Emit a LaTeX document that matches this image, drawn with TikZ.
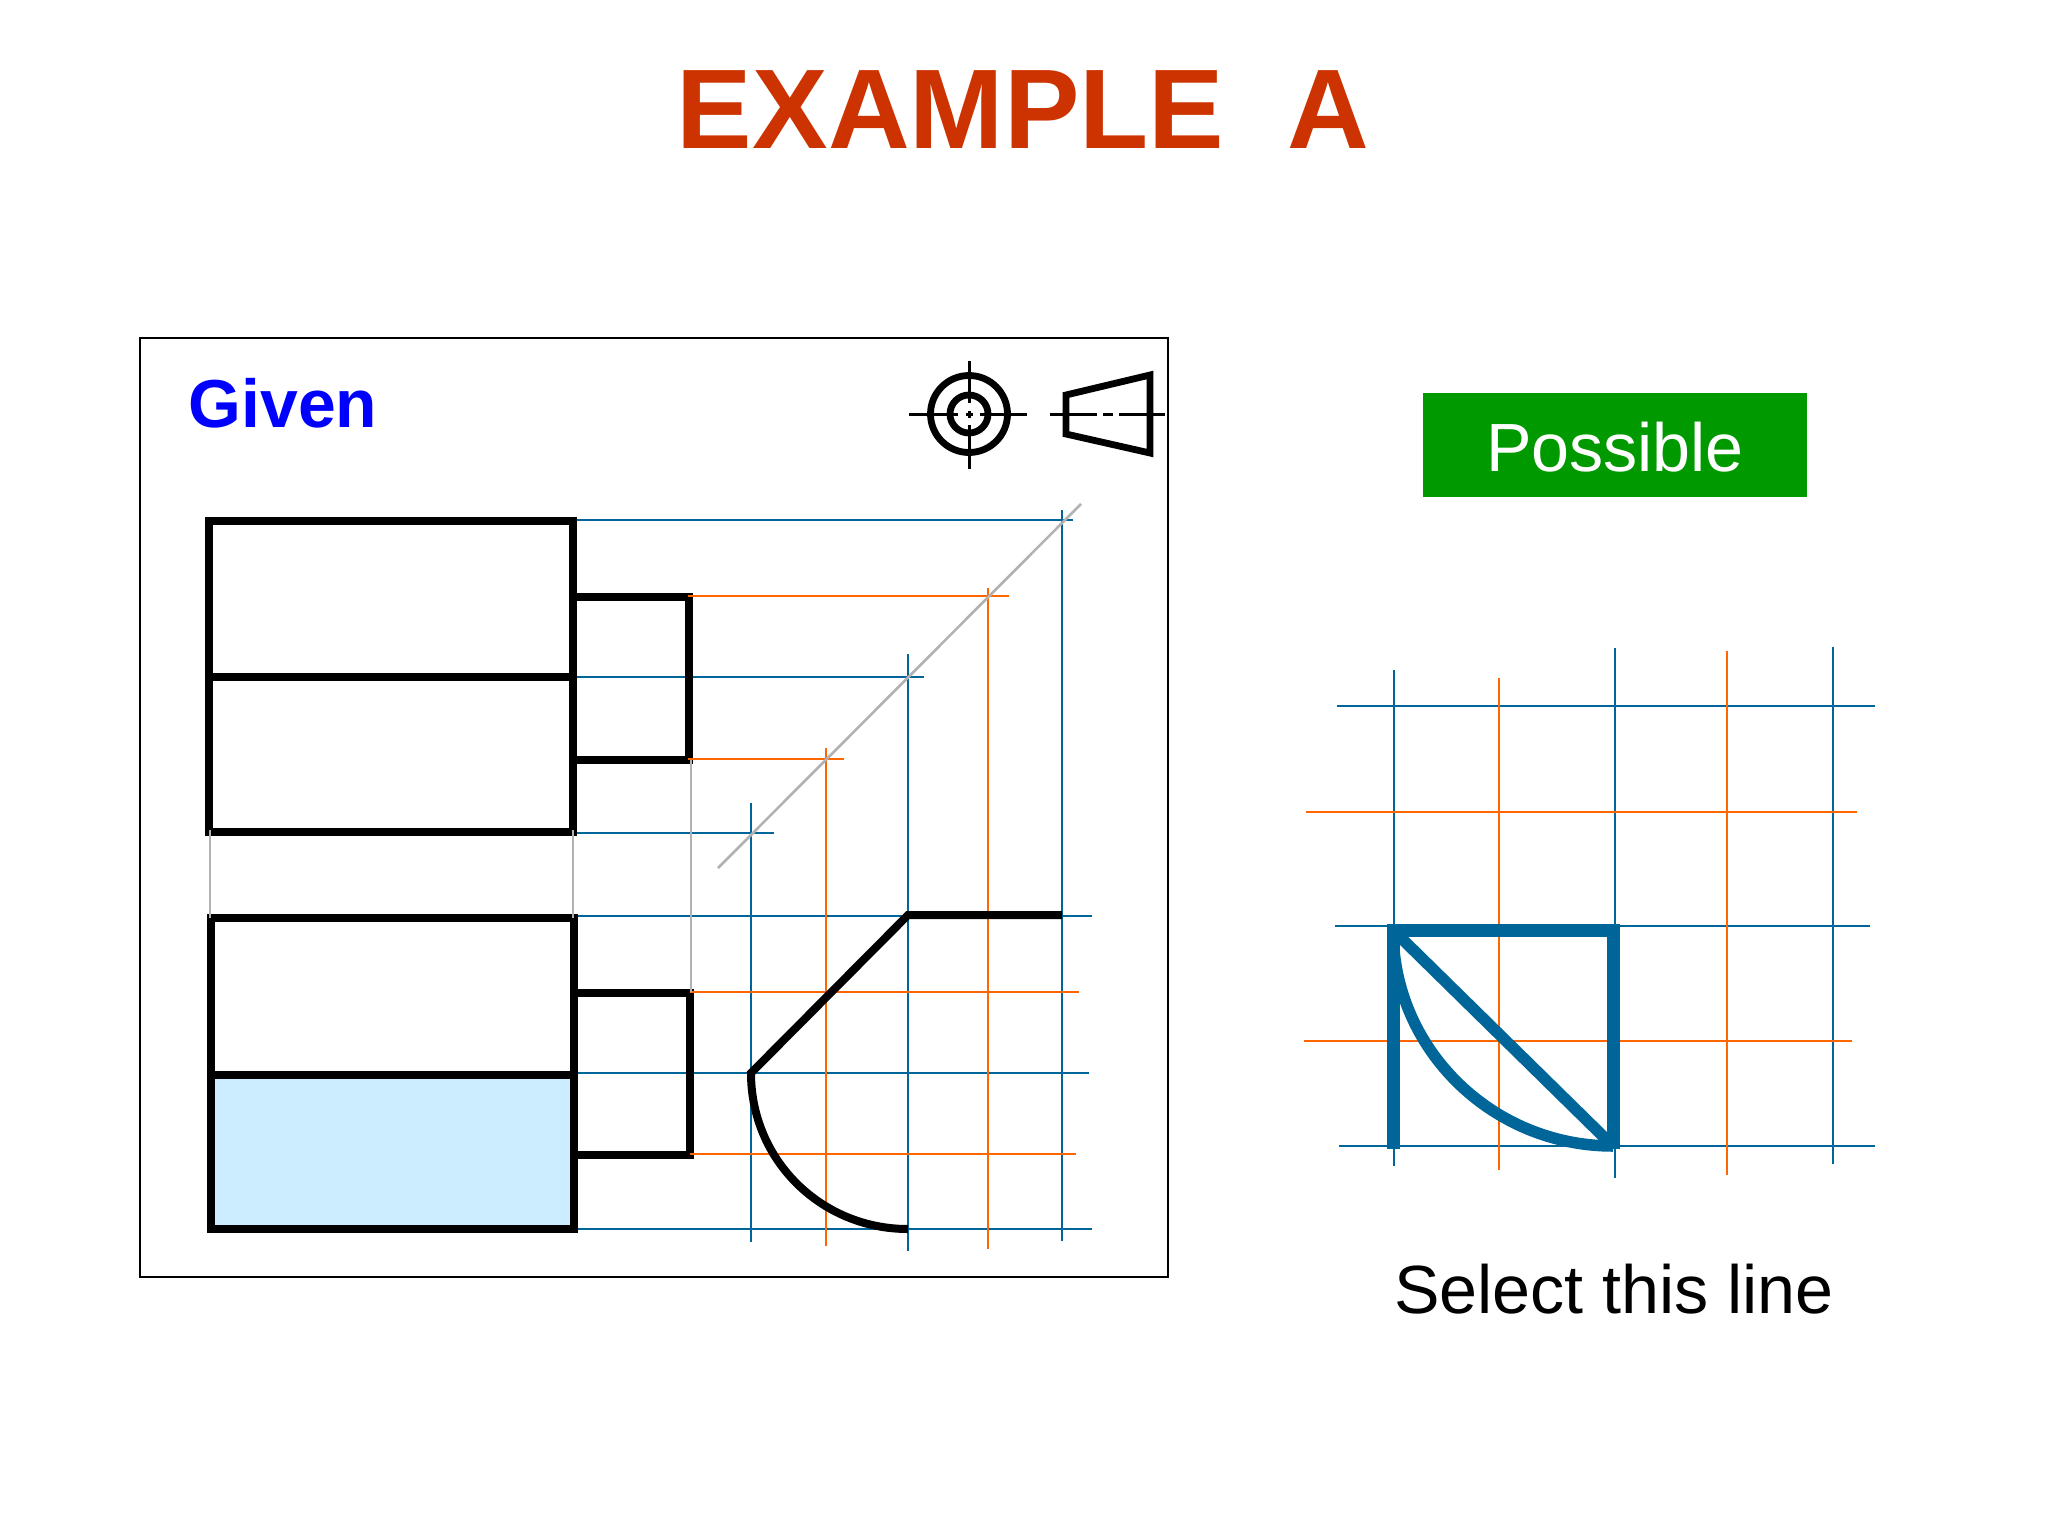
\documentclass[tikz,border=0pt]{standalone}
\usepackage{fontspec}
\setmainfont{Liberation Sans}
\definecolor{viewblue}{HTML}{006699}
\definecolor{vieworange}{HTML}{FF6600}
\definecolor{viewgrey}{HTML}{B2B2B2}
\definecolor{titlered}{HTML}{CC3300}
\definecolor{faceblue}{HTML}{CCECFF}
\definecolor{boxgreen}{HTML}{009900}
\tikzstyle{blue line}=[draw=viewblue,line width=0.026cm]
\tikzstyle{orange line}=[draw=vieworange,line width=0.026cm]
\tikzstyle{grey line}=[draw=viewgrey,line width=0.026cm]
\tikzstyle{outline}=[draw=black,line width=0.08cm,line join=miter]
\tikzstyle{symbol}=[draw=black,line width=0.068cm]
\tikzstyle{axis}=[draw=black,line width=0.03cm]
\tikzstyle{selected line}=[draw=viewblue,line width=0.13cm,line join=miter]
\tikzstyle{label}=[inner sep=0pt,anchor=center]

\begin{document}
\begin{tikzpicture}[x=0.01cm,y=-0.01cm]
    \useasboundingbox (0,0) rectangle (2048,1536);

    % Titles and frame
    \node[label,text=titlered,font=\fontsize{32.2}{36}\selectfont\bfseries] (title) at (1023,110) {EXAMPLE\ \ A};
    \draw[line width=0.022cm] (140,338) rectangle (1168,1277);
    \node[label,text=blue,font=\fontsize{19.3}{22}\selectfont\bfseries] (given) at (283,403) {Given};
    \node[label,fill=boxgreen,text=white,minimum width=3.83cm,minimum height=1.03cm,font=\fontsize{19.4}{22}\selectfont] (possible) at (1615,445) {};
    \node[label,text=white,font=\fontsize{19.4}{22}\selectfont] (possible text) at (1615,447) {Possible};
    \node[label,font=\fontsize{19.4}{22}\selectfont] (select) at (1614,1289) {Select this line};

    % Blue projection lines of the given views
    \foreach \y/\xend in {520/1073, 677/924, 833/774, 916/1092, 1073/1089, 1229/1092}
        \path[blue line] (573,\y) -- (\xend,\y);
    \foreach \x/\ystart/\yend in {751/803/1242, 908/654/1251, 1062/510/1241}
        \path[blue line] (\x,\ystart) -- (\x,\yend);

    % Given views, first the shaded face
    \fill[faceblue] (211,1075) rectangle (574,1229);
    \path[outline] (209,521) rectangle (573,832);
    \path[outline] (209,677) -- (573,677);
    \path[outline] (573,597) -- (689,597) -- (689,760) -- (573,760);
    \path[outline] (211,918) rectangle (574,1229);
    \path[outline] (211,1075) -- (574,1075);
    \path[outline] (574,993) -- (690,993) -- (690,1155) -- (574,1155);

    % Orange projection lines
    \foreach \y/\xstart/\xend in {596/688/1009, 759/688/844, 992/690/1079, 1154/690/1076}
        \path[orange line] (\xstart,\y) -- (\xend,\y);
    \foreach \x/\ystart/\yend in {826/748/1246, 988/588/1249}
        \path[orange line] (\x,\ystart) -- (\x,\yend);

    % Grey lines and mitre line
    \foreach \x/\ystart/\yend in {210/830/918, 573/830/918, 691/760/992}
        \path[grey line] (\x,\ystart) -- (\x,\yend);
    \path[grey line] (718,868) -- (1081,504);

    % Profile found so far
    \path[outline] (1062,915) -- (908,915) -- (751,1073)
        .. controls (751,1160) and (821,1229) .. (908,1229);

    % Symbol of the projection
    \draw[symbol] (969,414) circle (38.5);
    \draw[symbol] (969,414) circle (19);
    \foreach \xa/\xb in {909/958, 966/973, 980/1027}
        \path[axis] (\xa,414) -- (\xb,414);
    \foreach \ya/\yb in {361/403, 411/418, 425/469}
        \path[axis] (969,\ya) -- (969,\yb);
    \path[symbol,line join=miter] (1066,395) -- (1150,375) -- (1150,453) -- (1066,434) -- cycle;
    \foreach \xa/\xb in {1050/1097, 1103/1113, 1119/1165}
        \path[axis] (\xa,414) -- (\xb,414);

    % Grid of the possible answer
    \foreach \y/\xstart/\xend in {706/1337/1875, 926/1335/1870, 1146/1339/1875}
        \path[blue line] (\xstart,\y) -- (\xend,\y);
    \foreach \x/\ystart/\yend in {1394/670/1166, 1615/648/1178, 1833/647/1164}
        \path[blue line] (\x,\ystart) -- (\x,\yend);
    \foreach \y/\xstart/\xend in {812/1306/1857, 1041/1304/1852}
        \path[orange line] (\xstart,\y) -- (\xend,\y);
    \foreach \x/\ystart/\yend in {1499/678/1170, 1727/651/1175}
        \path[orange line] (\x,\ystart) -- (\x,\yend);

    % Selected answer
    \path[selected line] (1393,1149) -- (1393,930) -- (1613,930) -- (1613,1149);
    \path[selected line,line width=0.115cm] (1393,930) -- (1613,1146);
    \path[selected line,line width=0.115cm] (1393,930)
        .. controls (1393,1049) and (1492,1146) .. (1613,1146);
\end{tikzpicture}
\end{document}
